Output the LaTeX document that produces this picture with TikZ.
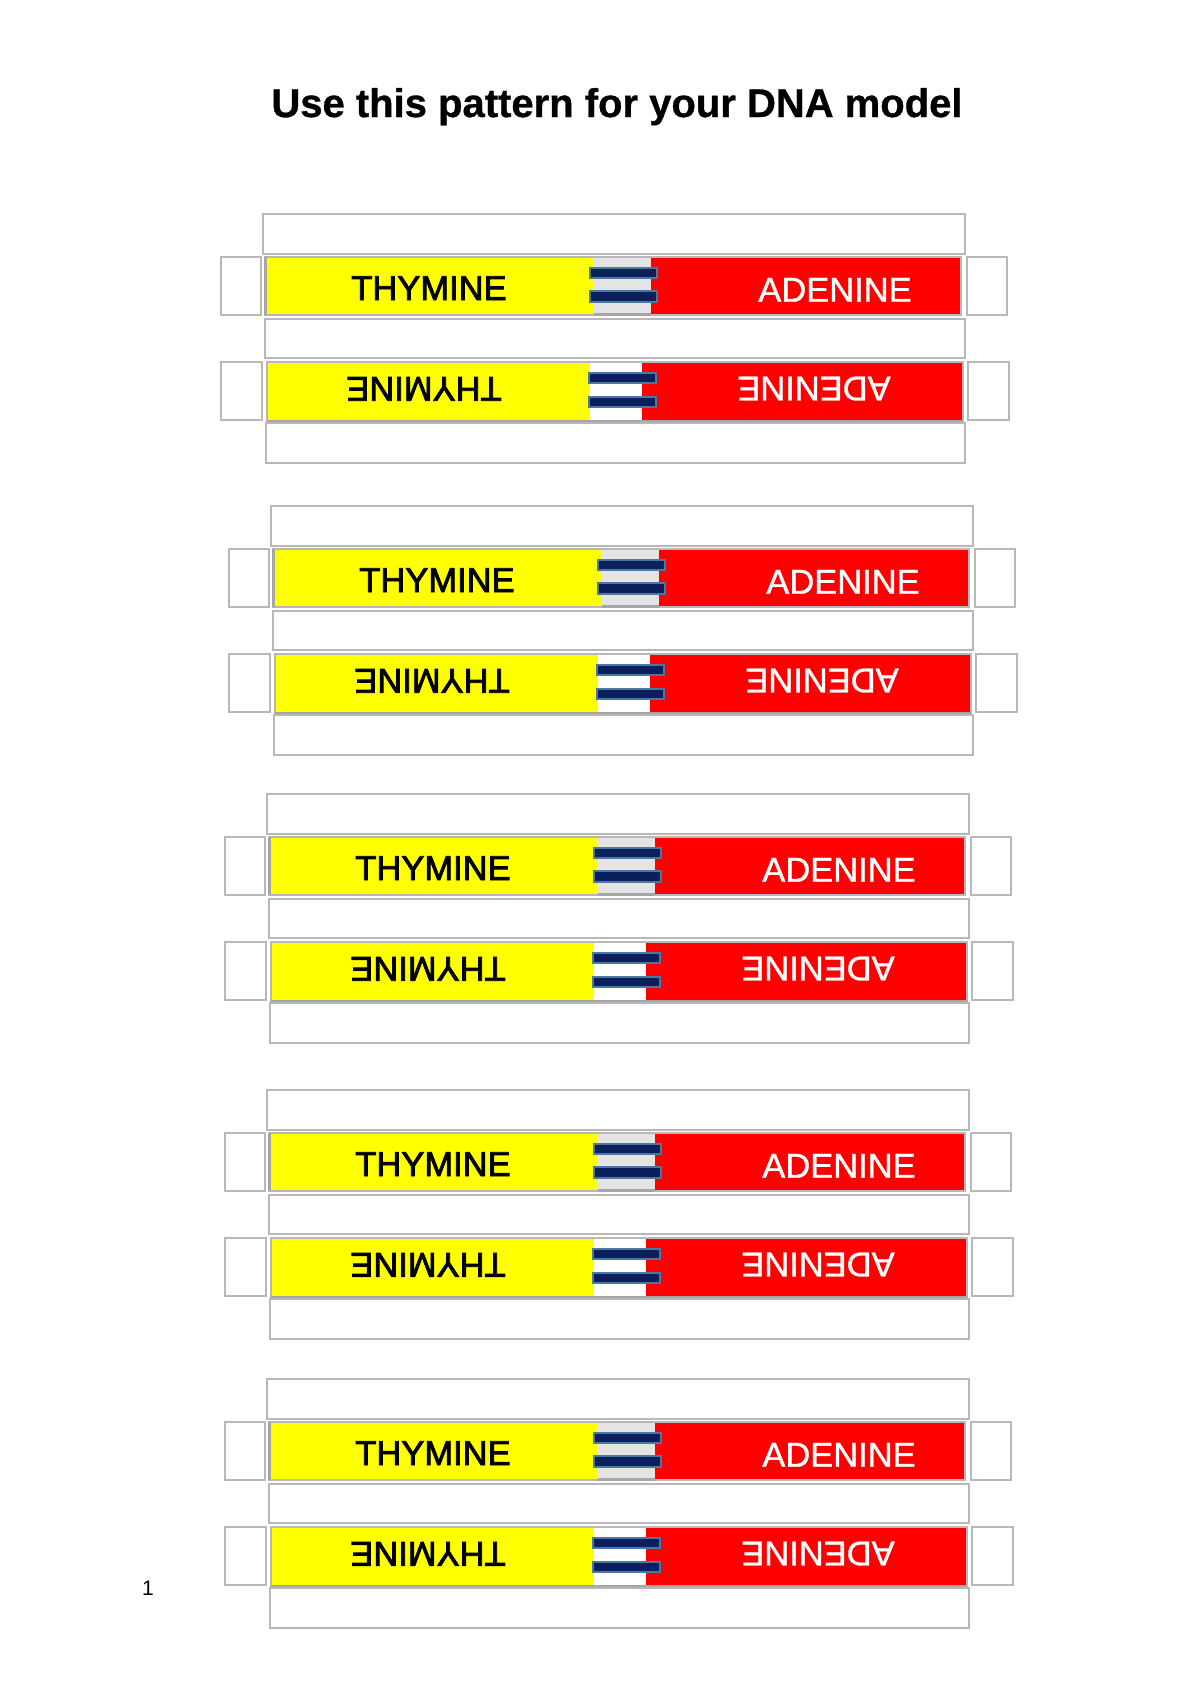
\documentclass[tikz,border=0pt]{standalone}
\usepackage{fontspec}
\setmainfont{Liberation Sans}
\newfontfamily\thyfont[FakeBold=2.5]{Liberation Sans}
\newfontfamily\adefont[FakeBold=1]{Liberation Sans}
\newfontfamily\titlefont[FakeBold=0.8]{Liberation Sans Bold}
\definecolor{boxgray}{HTML}{B8B8B8}
\definecolor{shadowgray}{HTML}{A6A6A6}
\definecolor{midgray}{HTML}{E4E4E4}
\definecolor{navy}{HTML}{0A1F5C}
\definecolor{barrim}{HTML}{4A78A0}
\definecolor{dnared}{HTML}{FF0000}
\definecolor{dnayellow}{HTML}{FFFF00}
\tikzset{
  cutbox/.style={draw=boxgray, line width=2, fill=white},
  rowline/.style={draw=boxgray, line width=1.5},
  rowshadow/.style={draw=shadowgray, line width=3},
  hbond/.style={fill=navy, draw=barrim, line width=1.5},
  labelT/.style={font=\thyfont\fontsize{34.5}{40}\selectfont, text=black, anchor=base, inner sep=0},
  labelA/.style={font=\adefont\fontsize{34.5}{40}\selectfont, text=white, anchor=base, inner sep=0},
}
\begin{document}
\begin{tikzpicture}[x=1pt,y=-1pt]
\useasboundingbox (0,0) rectangle (1200,1698);
\fill[white] (0,0) rectangle (1200,1698);
\node[font=\titlefont\fontsize{40}{46}\selectfont, anchor=base, inner sep=0] (title) at (617,117) {Use this pattern for your DNA model};
\node[font=\fontsize{21}{24}\selectfont, anchor=base, inner sep=0] (pagenum) at (148,1595) {1};
\foreach \g/\L/\T in {1/263/214, 2/271/506, 3/267/794, 4/267/1090, 5/267/1379}{
  \begin{scope}[shift={(\L,\T)}]
    % top strip
    \draw[cutbox] (0,0) rectangle (702,40);
    % row 1
    \draw[cutbox] (-42,43) rectangle (-2,101);
    \fill[dnayellow] (2,43) rectangle (331,101);
    \fill[midgray] (331,43) rectangle (388,101);
    \fill[dnared] (388,43) rectangle (698,101);
    \draw[rowline] (2,43) rectangle (698,101);
    \draw[rowshadow] (2.5,43) -- (2.5,101);
    \draw[rowshadow] (331,100) -- (388,100);
    \draw[cutbox] (704,43) rectangle (744,101);
    \draw[hbond] (327,54) rectangle (394,64);
    \draw[hbond] (327,77) rectangle (394,88);
    \node[labelT] (thyA\g) at (166,86) {THYMINE};
    \node[labelA] (adeA\g) at (572,87.7) {ADENINE};
    % middle strip
    \draw[cutbox] (2,105) rectangle (702,144);
    % row 2
    \draw[cutbox] (-42,148) rectangle (-1,206);
    \fill[dnayellow] (4,148) rectangle (327,207);
    \fill[dnared] (379,148) rectangle (700,207);
    \draw[rowline] (4,148) rectangle (700,207);
    \draw[rowshadow] (4,207) -- (700,207);
    \draw[cutbox] (705,148) rectangle (746,206);
    \draw[hbond] (326,159) rectangle (393,169);
    \draw[hbond] (326,183) rectangle (393,193);
    \node[labelT, rotate=180] (thyB\g) at (161,163) {THYMINE};
    \node[labelA, rotate=180] (adeB\g) at (551,162.7) {ADENINE};
    % bottom strip
    \draw[cutbox] (3,209) rectangle (702,249);
  \end{scope}
}
\end{tikzpicture}
\end{document}
